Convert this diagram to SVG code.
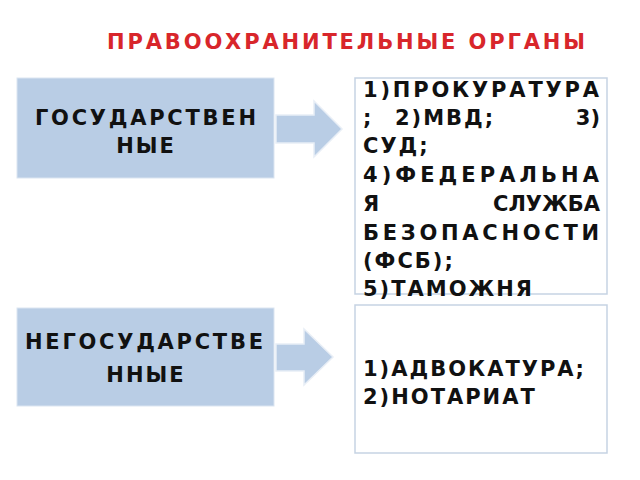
<svg xmlns="http://www.w3.org/2000/svg" width="640" height="480" viewBox="0 0 640 480">
<style>
.t{font-family:"DejaVu Sans","Verdana",sans-serif;font-weight:bold;font-size:21px;letter-spacing:2px;fill:#111}
.c{text-anchor:middle}
.lb{fill:#b9cde5;stroke:#dbe5f1;stroke-width:1}
.rb{fill:#fff;stroke:#c6d3e3;stroke-width:1.5}
.ar{fill:#b9cde5;stroke:#e8eef6;stroke-width:1.5}
</style>
<rect width="640" height="480" fill="#fff"/>
<text x="107" y="49" class="t" style="fill:#d8262b" textLength="480" lengthAdjust="spacing">ПРАВООХРАНИТЕЛЬНЫЕ ОРГАНЫ</text>
<g id="gos"><rect class="lb" x="17" y="78" width="257" height="100"/>
<text class="t" x="35" y="125" textLength="223" lengthAdjust="spacing">ГОСУДАРСТВЕН</text><text class="t c" x="146" y="153">НЫЕ</text></g>
<g id="negos"><rect class="lb" x="17" y="308" width="257" height="98"/>
<text class="t" x="25" y="349" textLength="240" lengthAdjust="spacing">НЕГОСУДАРСТВЕ</text><text class="t c" x="146" y="382">ННЫЕ</text></g>
<g id="list1"><rect class="rb" x="355" y="78" width="252" height="216"/>
<text class="t" x="363" y="97" textLength="238" lengthAdjust="spacing">1)ПРОКУРАТУРА</text>
<text class="t" x="363" y="125">;</text><text class="t" x="395" y="125">2)МВД;</text><text class="t" x="600" y="125" style="text-anchor:end;letter-spacing:0">3)</text>
<text class="t" x="363" y="153">СУД;</text>
<text class="t" x="363" y="182" textLength="238" lengthAdjust="spacing">4)ФЕДЕРАЛЬНА</text>
<text class="t" x="363" y="211">Я</text><text class="t" x="600" y="211" style="text-anchor:end;letter-spacing:0">СЛУЖБА</text>
<text class="t" x="363" y="240" textLength="238" lengthAdjust="spacing">БЕЗОПАСНОСТИ</text>
<text class="t" x="363" y="268">(ФСБ);</text>
<text class="t" x="363" y="296">5)ТАМОЖНЯ</text></g>
<g id="list2"><rect class="rb" x="355" y="305" width="252" height="148"/>
<text class="t" x="363" y="376">1)АДВОКАТУРА;</text>
<text class="t" x="363" y="404">2)НОТАРИАТ</text></g>
<g id="connectors">
<polygon class="ar" points="276,115 314,115 314,101 342,129 314,157 314,143 276,143"/>
<polygon class="ar" points="276,344 304,344 304,329 333,357 304,385 304,371 276,371"/>
</g>
</svg>
